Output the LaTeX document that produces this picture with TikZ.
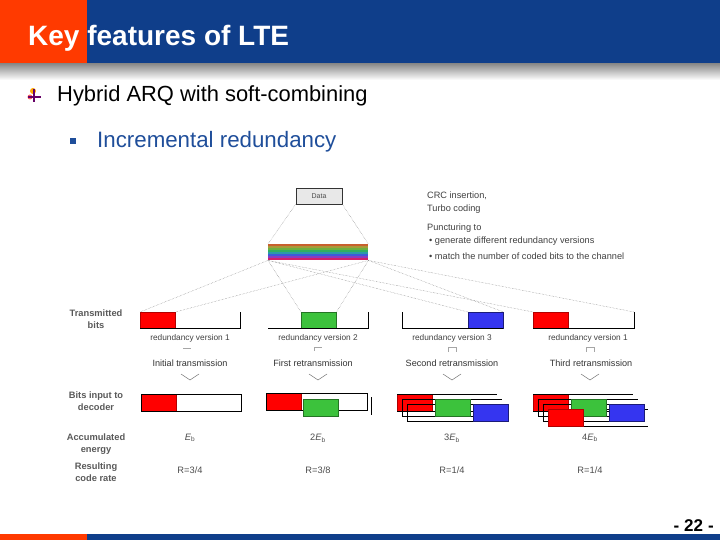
\documentclass[tikz,border=0pt]{standalone}
\usepackage{fontspec}
\setmainfont{Liberation Sans}
\usetikzlibrary{positioning}
\definecolor{hdrred}{HTML}{FF3A00}
\definecolor{hdrblue}{HTML}{0F3E8A}
\definecolor{subblue}{HTML}{1F4E9A}
\definecolor{rvred}{HTML}{FF0000}
\definecolor{rvgreen}{HTML}{3CC23C}
\definecolor{rvblue}{HTML}{3535F0}
\definecolor{rb1}{HTML}{C8602E}
\definecolor{rb2}{HTML}{A89A3A}
\definecolor{rb3}{HTML}{6CB040}
\definecolor{rb4}{HTML}{30B060}
\definecolor{rb5}{HTML}{2C9AA8}
\definecolor{rb6}{HTML}{3C5CD8}
\definecolor{rb7}{HTML}{8A3CC0}
\definecolor{rb8}{HTML}{D0206A}
\tikzstyle{seg} = [rectangle, inner sep=0pt, minimum width=35pt, minimum height=17pt, anchor=north west]
\tikzstyle{redseg} = [seg, fill=rvred, draw=rvred!70!black, line width=0.5pt]
\tikzstyle{greenseg} = [seg, fill=rvgreen, draw=rvgreen!60!black, line width=0.5pt]
\tikzstyle{blueseg} = [seg, fill=rvblue, draw=rvblue!50!black, line width=0.5pt]
\tikzstyle{frame} = [draw=black, line width=0.8pt]
\tikzstyle{guide} = [draw=black!50, densely dotted, line width=0.45pt]
\tikzstyle{lbl} = [font=\fontsize{8.3}{10}\selectfont, text=black!75, inner sep=0pt]
\tikzstyle{note} = [font=\fontsize{9.2}{11}\selectfont, text=black!75, inner sep=0pt]
\tikzstyle{txlbl} = [font=\fontsize{9.1}{11}\selectfont, text=black!80, inner sep=0pt]
\tikzstyle{rowlbl} = [font=\fontsize{9.3}{11.5}\selectfont\bfseries, text=black!65, align=center, inner sep=0pt]
\tikzstyle{val} = [font=\fontsize{9.3}{11}\selectfont, text=black!70, inner sep=0pt]
\tikzstyle{chev} = [draw=black!55, line width=0.5pt]
\tikzstyle{tick} = [draw=black!35, line width=0.5pt]

\begin{document}
\begin{tikzpicture}[x=1pt, y=-1pt]
  \useasboundingbox (0,0) rectangle (720,540);
  % slide header and footer
  \fill[hdrblue] (0,0) rectangle (720,64);
  \fill[hdrred] (0,0) rectangle (87,64);
  \shade[top color=black!45, bottom color=white] (0,64) rectangle (720,80);
  \fill[hdrblue] (0,534) rectangle (720,540);
  \fill[hdrred] (0,534) rectangle (87,540);
  \node[anchor=base west, inner sep=0pt, text=white, font=\fontsize{28}{30}\selectfont\bfseries] (title) at (28,46) {Key features of LTE};
  \node[anchor=base east, inner sep=0pt, font=\fontsize{17}{18}\selectfont\bfseries] (page) at (714,531) {-\hspace{5pt}22\hspace{5pt}-};

  % bullets
  \fill[orange!70!yellow] (33,91) circle (3);
  \fill[red!60] (30,97) circle (2.5);
  \draw[violet!80!black, line width=1.2pt] (34,89) -- (34,102) (28,97) -- (41,97);
  \node[anchor=base west, inner sep=0pt, font=\fontsize{21.9}{24}\selectfont] (bul1) at (57,102) {Hybrid ARQ with soft-combining};
  \fill[subblue] (70,138) rectangle (76,144);
  \node[anchor=base west, inner sep=0pt, text=subblue, font=\fontsize{22.3}{24}\selectfont] (bul2) at (97,148) {Incremental redundancy};

  % data and coded bits
  \node[rectangle, draw=black!80, fill=black!9, line width=0.8pt, minimum width=46pt, minimum height=16pt, inner sep=0pt, font=\fontsize{7}{8}\selectfont, text=black!70] (data) at (319,196) {Data};
  \node[rectangle, minimum width=100pt, minimum height=16pt, inner sep=0pt, anchor=north west] (coded) at (268,244) {};
  \foreach \c [count=\i from 0] in {rb1,rb2,rb3,rb4,rb5,rb6,rb7,rb8}
    \fill[\c] (268,{244+2*\i}) rectangle ++(100,2);
  \draw[guide] (data.south west) -- (coded.north west);
  \draw[guide] (data.south east) -- (coded.north east);

  \node[note, anchor=base west] (crc) at (427,198.5) {CRC insertion,};
  \node[note, anchor=base west] (turbo) at (427,211.5) {Turbo coding};
  \node[note, anchor=base west] (punct) at (427,230) {Puncturing to};
  \node[note, anchor=base west] (gen) at (429,243.5) {\textbullet\ generate different redundancy versions};
  \node[note, anchor=base west] (match) at (429,259) {\textbullet\ match the number of coded bits to the channel};

  % transmitted bits
  \node[rowlbl] (rowtx) at (96,319) {Transmitted\\bits};
  \node[redseg, minimum height=16pt] (tx1) at (140,312) {};
  \node[greenseg, minimum height=16pt] (tx2) at (301,312) {};
  \node[blueseg, minimum height=16pt] (tx3) at (468,312) {};
  \node[redseg, minimum height=16pt] (tx4) at (533,312) {};
  \coordinate (tx4end) at (634,312);
  \draw[frame] (140,328) -- (240,328) -- (240,312);
  \draw[frame] (268,328) -- (368,328) -- (368,312);
  \draw[frame] (402,312) -- (402,328) -- (503,328);
  \draw[frame] (533,328) -- (634,328) -- (634,312);

  \draw[guide] (coded.south west) -- (tx1.north west);
  \draw[guide] (coded.south east) -- (tx1.north east);
  \draw[guide] (coded.south west) -- (tx2.north west);
  \draw[guide] (coded.south east) -- (tx2.north east);
  \draw[guide] (coded.south west) -- (tx3.north west);
  \draw[guide] (coded.south east) -- (tx3.north east);
  \draw[guide] (coded.south west) -- (tx4.north west);
  \draw[guide] (coded.south east) -- (tx4end);

  \node[lbl, anchor=base] (rv1) at (190,340) {redundancy version 1};
  \node[lbl, anchor=base] (rv2) at (318,340) {redundancy version 2};
  \node[lbl, anchor=base] (rv3) at (452,340) {redundancy version 3};
  \node[lbl, anchor=base] (rv4) at (588,340) {redundancy version 1};
  \draw[tick] (183,348) -- (191,348);
  \draw[tick] (314,351) -- (314,347) -- (322,347);
  \draw[tick] (448,352) -- (448,347) -- (456,347) -- (456,352);
  \draw[tick] (586,352) -- (586,347) -- (594,347) -- (594,352);
  \node[txlbl, anchor=base] (tr1) at (190,366) {Initial transmission};
  \node[txlbl, anchor=base] (tr2) at (313,366) {First retransmission};
  \node[txlbl, anchor=base] (tr3) at (452,366) {Second retransmission};
  \node[txlbl, anchor=base] (tr4) at (591,366) {Third retransmission};
  \draw[chev] (181,374) -- (190,380) -- (199,374);
  \draw[chev] (309,374) -- (318,380) -- (327,374);
  \draw[chev] (443,374) -- (452,380) -- (461,374);
  \draw[chev] (581,374) -- (590,380) -- (599,374);

  % bits input to decoder
  \node[rowlbl] (rowdec) at (96,401) {Bits input to\\decoder};
  \node[redseg] (d1r) at (141,394) {};
  \node[rectangle, frame, minimum width=100pt, minimum height=17pt, inner sep=0pt, anchor=north west] (dec1) at (141,394) {};

  \node[redseg] (d2r) at (266,393) {};
  \node[rectangle, frame, minimum width=101pt, minimum height=17pt, inner sep=0pt, anchor=north west] (dec2) at (266,393) {};
  \node[greenseg] (d2g) at (303,399) {};
  \draw[frame] (371,397) -- (371,415);

  \node[redseg] (d3r) at (397,394) {};
  \foreach \k in {0,1,2}
    \draw[frame, line width=0.7pt] ({397+5*\k},{394+5*\k}) -- ++(100,0) ({397+5*\k},{411+5*\k}) -- ++(100,0);
  \draw[frame, line width=0.7pt] (402,399) -- (402,416) (407,404) -- (407,421);
  \node[greenseg] (d3g) at (435,399) {};
  \node[blueseg] (d3b) at (473,404) {};

  \node[redseg] (d4r) at (533,394) {};
  \foreach \k in {0,1,2,3}
    \draw[frame, line width=0.7pt] ({533+5*\k},{394+5*\k}) -- ++(100,0) ({533+5*\k},{411+5*\k}) -- ++(100,0);
  \draw[frame, line width=0.7pt] (538,399) -- (538,416) (543,404) -- (543,421);
  \node[greenseg] (d4g) at (571,399) {};
  \node[blueseg] (d4b) at (609,404) {};
  \node[redseg] (d4r2) at (548,409) {};

  % energy and code rate
  \node[rowlbl] (rowen) at (96,444) {Accumulated\\energy};
  \node[rowlbl] (rowrate) at (96,472) {Resulting\\code rate};
  \node[val] (en1) at (190,438) {\textit{E}\textsubscript{b}};
  \node[val] (en2) at (318,438) {2\textit{E}\textsubscript{b}};
  \node[val] (en3) at (452,438) {3\textit{E}\textsubscript{b}};
  \node[val] (en4) at (590,438) {4\textit{E}\textsubscript{b}};
  \node[val] (r1) at (190,470) {R=3/4};
  \node[val] (r2) at (318,470) {R=3/8};
  \node[val] (r3) at (452,470) {R=1/4};
  \node[val] (r4) at (590,470) {R=1/4};
\end{tikzpicture}
\end{document}
